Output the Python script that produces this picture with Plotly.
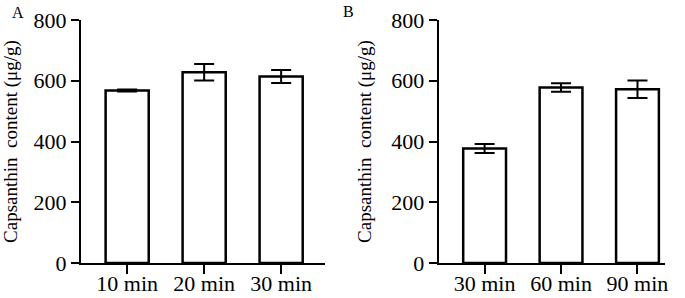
import plotly.graph_objects as go

cats_a = ["10 min", "20 min", "30 min"]
vals_a = [568, 628, 614]
err_a = [3, 27, 21]

cats_b = ["30 min", "60 min", "90 min"]
vals_b = [377, 578, 572]
err_b = [15, 14, 29]

y_ticks = [0, 200, 400, 600, 800]
y_title = "Capsanthin\u00a0 content (\u03bcg/g)"
FONT = "Liberation Serif, Times New Roman, serif"

fig = go.Figure()

def add_bars(cats, vals, errs, xa, ya):
    fig.add_trace(go.Bar(
        x=cats, y=vals, xaxis=xa, yaxis=ya,
        width=0.56,
        marker=dict(color="white", line=dict(color="black", width=2.5)),
        error_y=dict(type="data", array=errs, visible=True,
                     color="black", thickness=2, width=10),
        showlegend=False,
    ))

add_bars(cats_a, vals_a, err_a, "x", "y")
add_bars(cats_b, vals_b, err_b, "x2", "y2")

ax_common = dict(
    showgrid=False, zeroline=False, showline=True, linecolor="black",
    linewidth=2, ticks="outside", ticklen=8, tickwidth=2, tickcolor="black",
    tickfont=dict(family=FONT, size=22, color="black"), automargin=False,
)
xax = dict(ax_common, ticklen=9, ticklabelstandoff=-9)
yax = dict(ax_common, range=[0, 800], tickvals=y_ticks,
           title=dict(text=y_title, font=dict(family=FONT, size=19, color="black"), standoff=15))

fig.update_layout(
    width=685, height=298,
    margin=dict(l=0, r=0, t=0, b=0, autoexpand=False),
    paper_bgcolor="white", plot_bgcolor="white",
    xaxis=dict(xax, domain=[0.1182, 0.4745], range=[-0.6, 2.57], anchor="y"),
    yaxis=dict(yax, domain=[0.1174, 0.9329], anchor="x"),
    xaxis2=dict(xax, domain=[0.6405, 0.9708], range=[-0.6, 2.36], anchor="y2"),
    yaxis2=dict(yax, domain=[0.1174, 0.9329], anchor="x2"),
    annotations=[
        dict(text="A", x=10 / 685, y=1 - 2 / 298, xref="paper", yref="paper",
             xanchor="left", yanchor="top", showarrow=False,
             font=dict(family=FONT, size=16, color="black")),
        dict(text="B", x=341 / 685, y=1 - 1 / 298, xref="paper", yref="paper",
             xanchor="left", yanchor="top", showarrow=False,
             font=dict(family=FONT, size=16, color="black")),
    ],
)

fig.write_html("out.html", config={"displayModeBar": False},
               post_script="document.body.style.margin='0';")
